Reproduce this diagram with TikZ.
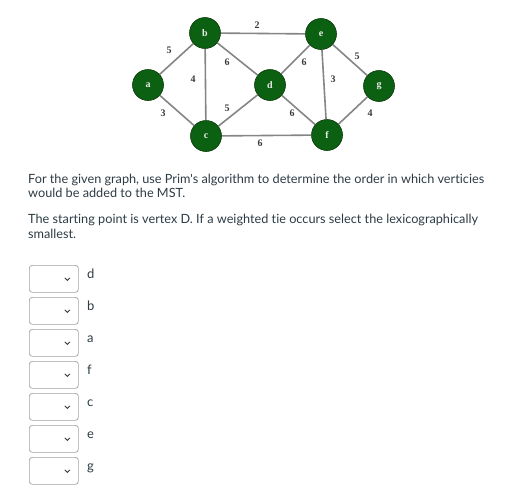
\documentclass[tikz,border=0pt]{standalone}
\usepackage{fontspec}
\usetikzlibrary{calc}
\setmainfont{Lato}[Ligatures={TeXOff,CommonOff}]
\newfontfamily\graphfont{Liberation Serif}
\definecolor{nodegreen}{HTML}{0B6011}
\definecolor{nodeborder}{HTML}{0A3A0A}
\definecolor{edgegray}{HTML}{858585}
\definecolor{wlabel}{HTML}{3A3A3A}
\definecolor{txt}{HTML}{2D3B45}
\definecolor{boxgray}{HTML}{A0A0A0}
\begin{document}
\begin{tikzpicture}[x=1pt,y=-1pt,
  vert/.style={circle,fill=nodegreen,draw=nodeborder,line width=0.6pt,minimum size=31pt,inner sep=0pt,text=white!92!black,font=\graphfont\bfseries\fontsize{10}{10}\selectfont},
  edge/.style={draw=edgegray,line width=1.6pt},
  wt/.style={text=wlabel,font=\graphfont\bfseries\fontsize{10}{10}\selectfont,inner sep=0pt},
  para/.style={anchor=base west,inner sep=0pt,text=txt,font=\fontsize{12.7}{15}\selectfont},
  ddbox/.style={draw=boxgray,line width=0.7pt,rounded corners=3pt,minimum width=49pt,minimum height=27pt,inner sep=0pt,anchor=north west},
  chev/.style={draw=black!80,line width=0.8pt},
  opt/.style={anchor=base west,inner sep=0pt,text=txt,font=\fontsize{13}{15}\selectfont}]
\useasboundingbox (0,0) rectangle (506,490);
% vertices
\node[vert] (a) at (148,85) {a};
\node[vert] (b) at (205,33) {b};
\node[vert] (e) at (321,34) {e};
\node[vert] (d) at (270,85) {d};
\node[vert] (g) at (379,86) {g};
\node[vert] (c) at (206,136) {c};
\node[vert] (f) at (327,135) {f};
% edges
\path[edge] (a) -- (b);
\path[edge] (a) -- (c);
\path[edge] (b) -- (e);
\path[edge] (b) -- (c);
\path[edge] (b) -- (d);
\path[edge] (c) -- (d);
\path[edge] (c) -- (f);
\path[edge] (d) -- (e);
\path[edge] (d) -- (f);
\path[edge] (e) -- (f);
\path[edge] (e) -- (g);
\path[edge] (f) -- (g);
% weights
\node[wt] (w1) at (257,25) {2};
\node[wt] (w2) at (169,50) {5};
\node[wt] (w3) at (193,79) {4};
\node[wt] (w4) at (227,62) {6};
\node[wt] (w5) at (304,62) {6};
\node[wt] (w6) at (357,56) {5};
\node[wt] (w7) at (333,79) {3};
\node[wt] (w8) at (163,113) {3};
\node[wt] (w9) at (227,108) {5};
\node[wt] (w10) at (292,113) {6};
\node[wt] (w11) at (370,113) {4};
\node[wt] (w12) at (260,143) {6};
% text
\node[para] (t1) at (28,183) {For the given graph, use Prim's algorithm to determine the order in which verticies};
\node[para] (t2) at (28,197.5) {would be added to the MST.};
\node[para] (t3) at (28,223.5) {The starting point is vertex D. If a weighted tie occurs select the lexicographically};
\node[para] (t4) at (28,238.5) {smallest.};
% dropdowns
\foreach \i/\l in {0/d,1/b,2/a,3/f,4/c,5/e,6/g}{
  \node[ddbox] (box\i) at (29,{265+32*\i}) {};
  \draw[chev] ($(box\i.center)+(11,-1)$) -- ++(2.5,2.5) -- ++(2.5,-2.5);
  \node[opt] (opt\i) at (87,{278+32*\i}) {\l};
}
\end{tikzpicture}
\end{document}
